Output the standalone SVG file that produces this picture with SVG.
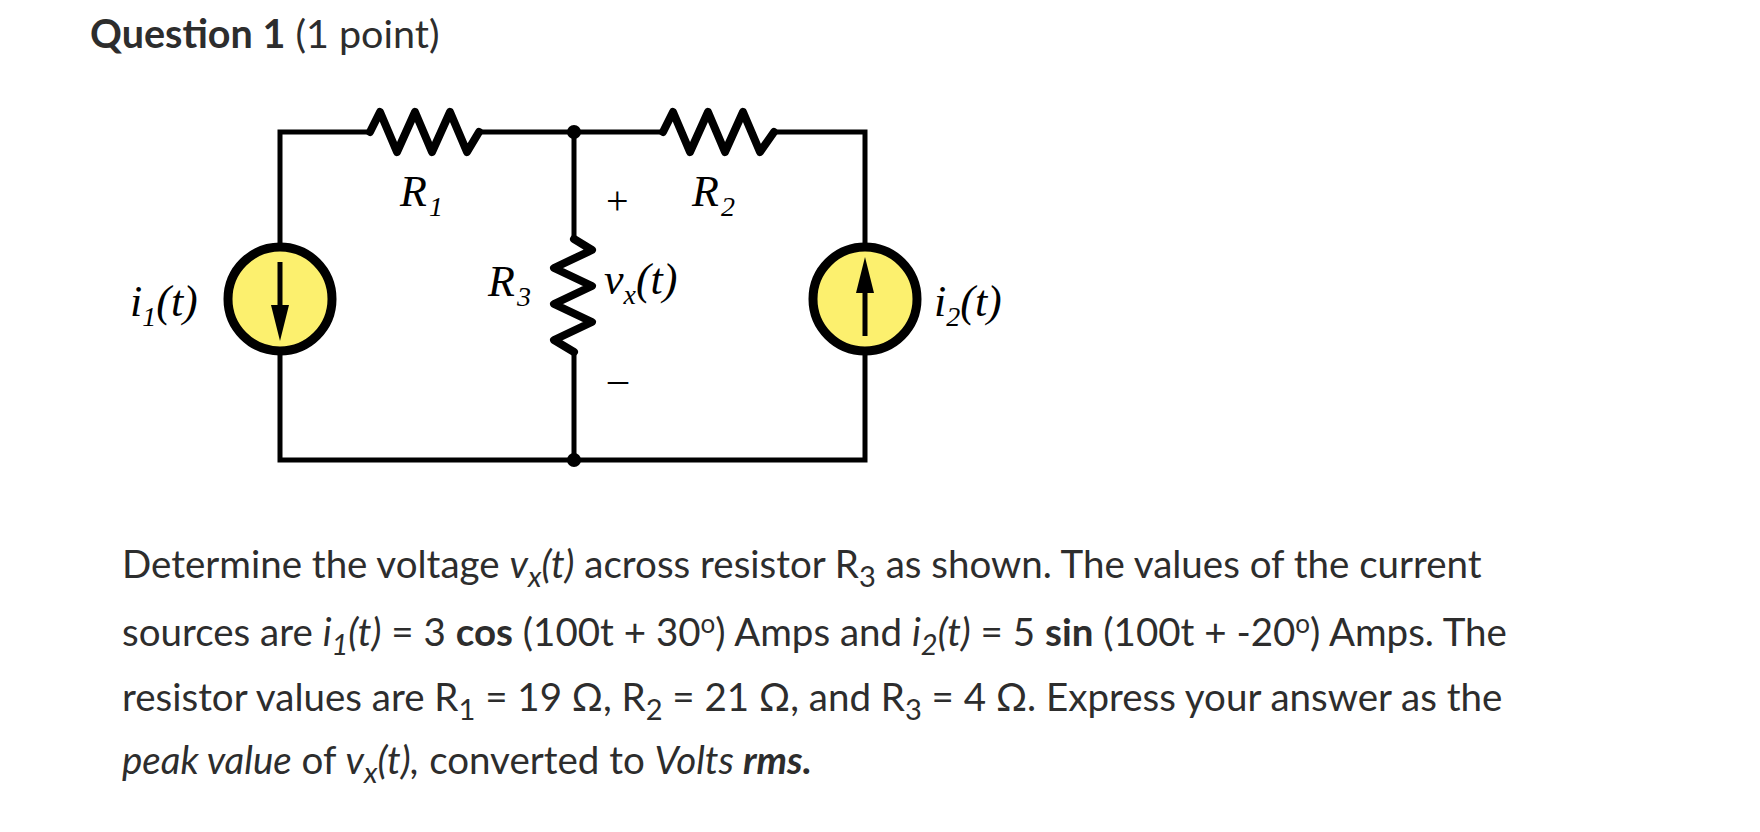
<svg xmlns="http://www.w3.org/2000/svg" width="1760" height="832" viewBox="0 0 1760 832">
<style>
.w{fill:none;stroke:#000;stroke-width:5;stroke-linecap:square}
.r{fill:none;stroke:#000;stroke-width:8;stroke-linejoin:round;stroke-linecap:round}
.src{fill:#fcf06e;stroke:#000;stroke-width:9}
.lbl{font-family:"Liberation Serif",serif;font-style:italic;font-size:44px;fill:#000}
.sub{font-size:28px}
.sym{font-family:"Liberation Serif",serif;font-size:40px;fill:#000}
.t{font-family:Lato,"Liberation Sans",sans-serif;font-size:38.5px;fill:#2d2d2d}
.h{font-family:Lato,"Liberation Sans",sans-serif;font-size:39.5px;fill:#2d2d2d}
</style>
<text class="h" x="90" y="48"><tspan font-weight="bold">Question 1</tspan> (1 point)</text>
<g id="connectors">
<path class="w" d="M370,132H280V246M280,352V460H865V352M865,246V132H774M479,132H663M574,132V239M574,352V460"/>
</g>
<g id="R1"><path class="r" d="M370,132L380,112L397,152L415,112L432,152L450,112L467,152L479,132"/>
<text class="lbl" x="400" y="206">R<tspan class="sub" dx="2" dy="10">1</tspan></text></g>
<g id="R2"><path class="r" d="M663,132L673,112L690,152L708,112L725,152L743,112L760,152L774,132"/>
<text class="lbl" x="692" y="206">R<tspan class="sub" dx="2" dy="10">2</tspan></text></g>
<g id="R3"><path class="r" d="M574,239L592,250L554,268L592,286L554,304L592,322L554,340L574,352"/>
<text class="lbl" x="488" y="296">R<tspan class="sub" dx="2" dy="10">3</tspan></text></g>
<g id="vx">
<text class="sym" x="606" y="214">+</text>
<text class="lbl" x="604" y="294">v<tspan class="sub" dy="10">x</tspan><tspan dy="-10">(t)</tspan></text>
<text class="sym" x="608" y="392">–</text>
</g>
<g id="I1"><circle class="src" cx="280" cy="299" r="52"/>
<line x1="280" y1="262" x2="280" y2="310" stroke="#000" stroke-width="5"/>
<polygon points="271,305 289,305 280,341"/>
<text class="lbl" x="130" y="316">i<tspan class="sub" dy="10">1</tspan><tspan dy="-10">(t)</tspan></text></g>
<g id="I2"><circle class="src" cx="865" cy="299" r="52"/>
<line x1="865" y1="336" x2="865" y2="288" stroke="#000" stroke-width="5"/>
<polygon points="856,293 874,293 865,257"/>
<text class="lbl" x="934" y="316">i<tspan class="sub" dy="10">2</tspan><tspan dy="-10">(t)</tspan></text></g>
<circle cx="574" cy="132" r="7"/><circle cx="574" cy="460" r="7"/>
<text class="t" x="122" y="578">Determine the voltage <tspan font-style="italic">v<tspan dy="9" font-size="29">x</tspan><tspan dy="-9">(t)</tspan></tspan> across resistor R<tspan dy="9" font-size="29">3</tspan><tspan dy="-9"> as shown. The values of the current</tspan></text>
<text class="t" x="122" y="646">sources are <tspan font-style="italic">i<tspan dy="9" font-size="29">1</tspan><tspan dy="-9">(t)</tspan></tspan> = 3 <tspan font-weight="bold">cos</tspan> (100t + 30<tspan dy="-13" font-size="26">o</tspan><tspan dy="13">) Amps and </tspan><tspan font-style="italic">i<tspan dy="9" font-size="29">2</tspan><tspan dy="-9">(t)</tspan></tspan> = 5 <tspan font-weight="bold">sin</tspan> (100t + -20<tspan dy="-13" font-size="26">o</tspan><tspan dy="13">) Amps. The</tspan></text>
<text class="t" x="122" y="711">resistor values are R<tspan dy="9" font-size="29">1</tspan><tspan dy="-9"> = 19 Ω, R</tspan><tspan dy="9" font-size="29">2</tspan><tspan dy="-9"> = 21 Ω, and R</tspan><tspan dy="9" font-size="29">3</tspan><tspan dy="-9"> = 4 Ω. Express your answer as the</tspan></text>
<text class="t" x="122" y="774"><tspan font-style="italic">peak value</tspan> of <tspan font-style="italic">v<tspan dy="9" font-size="29">x</tspan><tspan dy="-9">(t),</tspan></tspan> converted to <tspan font-style="italic">Volts <tspan font-weight="bold">rms.</tspan></tspan></text>
</svg>
